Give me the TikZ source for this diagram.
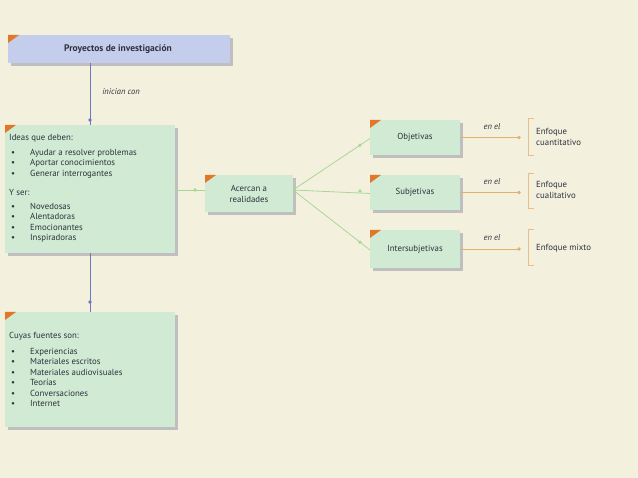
\documentclass[tikz,border=0pt]{standalone}
\usepackage{fontspec}
\setmainfont{PT Sans}
\usetikzlibrary{calc}
\begin{document}
\begin{tikzpicture}[x=1pt,y=-1pt,
  gline/.style={draw=lineg,line width=0.8pt},
  oline/.style={draw=lineo,line width=0.8pt},
  lbl/.style={font=\fontsize{8.8}{10.5}\selectfont,text=txt,inner sep=0pt},
  bracket/.style={draw=lineo!80,line width=0.6pt}]
\definecolor{bg}{RGB}{244,240,222}
\definecolor{boxg}{RGB}{208,234,212}
\definecolor{boxb}{RGB}{196,206,236}
\definecolor{lineg}{RGB}{170,215,150}
\definecolor{lineo}{RGB}{225,175,110}
\definecolor{lineb}{RGB}{110,120,190}
\definecolor{tri}{RGB}{225,120,40}
\definecolor{txt}{RGB}{45,50,60}
\fill[bg] (0,0) rectangle (638,478);
\useasboundingbox (0,0) rectangle (638,478);
\newcommand{\tbox}[5]{%
  \fill[black!25] (#1+3,#2+3) rectangle (#3+3,#4+3);
  \fill[#5] (#1,#2) rectangle (#3,#4);
  \fill[tri] (#1,#2) -- (#1+11,#2) -- (#1,#2+8) -- cycle;}
\newcommand{\bul}{\textbullet\hspace{15pt}}
% top
\tbox{8}{35}{230}{63}{boxb}
\node[lbl,font=\fontsize{9.5}{11}\selectfont\bfseries] (top) at (118,49) {Proyectos de investigación};
\coordinate (topb) at (90,63);
% ideas
\tbox{5}{125}{175}{253}{boxg}
\node[lbl,anchor=west] (ideas) at (9,138) {Ideas que deben:};
\node[lbl,anchor=north west,align=left] at (11,149) {%
\bul Ayudar a resolver problemas\\
\bul Aportar conocimientos\\
\bul Generar interrogantes};
\node[lbl,anchor=west] at (9,192) {Y ser:};
\node[lbl,anchor=north west,align=left] at (11,203) {%
\bul Novedosas\\
\bul Alentadoras\\
\bul Emocionantes\\
\bul Inspiradoras};
\coordinate (ideasT) at (90,125);
\coordinate (ideasB) at (90,253);
\coordinate (ideasR) at (175,190);
% cuyas
\tbox{5}{312}{175}{427}{boxg}
\coordinate (cuyasT) at (90,312);
\node[lbl,anchor=west] (cuyas) at (9,336) {Cuyas fuentes son:};
\node[lbl,anchor=north west,align=left] at (11,348) {%
\bul Experiencias\\
\bul Materiales escritos\\
\bul Materiales audiovisuales\\
\bul Teorías\\
\bul Conversaciones\\
\bul Internet};
\draw[draw=lineb,line width=0.8pt] (topb) -- (ideasT);
\fill[lineb] (90,120) circle (1.8);
\node[lbl,font=\fontsize{8.5}{9}\selectfont\itshape] (ini) at (121,92) {inician con};
\draw[draw=lineb,line width=0.8pt] (ideasB) -- (cuyasT);
\fill[lineb] (90,302) circle (1.8);
% acercan
\tbox{205}{175}{293}{212}{boxg}
\node[lbl,align=center] (acer) at (249,194) {Acercan a\\realidades};
\coordinate (acL) at (205,190);
\coordinate (acR) at (293,190);
\draw[gline] (ideasR) -- (acL);
\fill[lineg] (195,190) circle (1.8);
% right column
\foreach \n/\t/\y/\h in {obj/Objetivas/120/35,sub/Subjetivas/175/35,inter/Intersubjetivas/230/38}{
  \tbox{370}{\y}{460}{\y+\h}{boxg}
  \node[lbl] (\n) at (415,\y+\h/2) {\t};
  \coordinate (\n L) at (370,\y+\h/2+1);
  \coordinate (\n R) at (460,\y+\h/2);
  \coordinate (\n E) at (519,\y+\h/2);
  \draw[gline] (acR) -- (\n L);
  \draw[oline] (\n R) -- (\n E);
  \fill[lineo] (\n E) circle (1.8);
  \node[lbl,font=\fontsize{8.5}{9}\selectfont\itshape] at (492,\y+\h/2-11) {en el};
}
\fill[lineg] ($(acR)!0.87!(objL)$) circle (1.8);
\fill[lineg] (360,191) circle (1.8);
\fill[lineg] ($(acR)!0.87!(interL)$) circle (1.8);
\draw[bracket] (534,118) -- (528,118) -- (528,155) -- (534,155);
\node[lbl,anchor=west,align=left] (e1) at (536,137) {Enfoque\\cuantitativo};
\draw[bracket] (534,173) -- (528,173) -- (528,208) -- (534,208);
\node[lbl,anchor=west,align=left] (e2) at (536,190) {Enfoque\\cualitativo};
\draw[bracket] (534,229) -- (528,229) -- (528,265) -- (534,265);
\node[lbl,anchor=west] (e3) at (536,248) {Enfoque mixto};
\end{tikzpicture}
\end{document}
